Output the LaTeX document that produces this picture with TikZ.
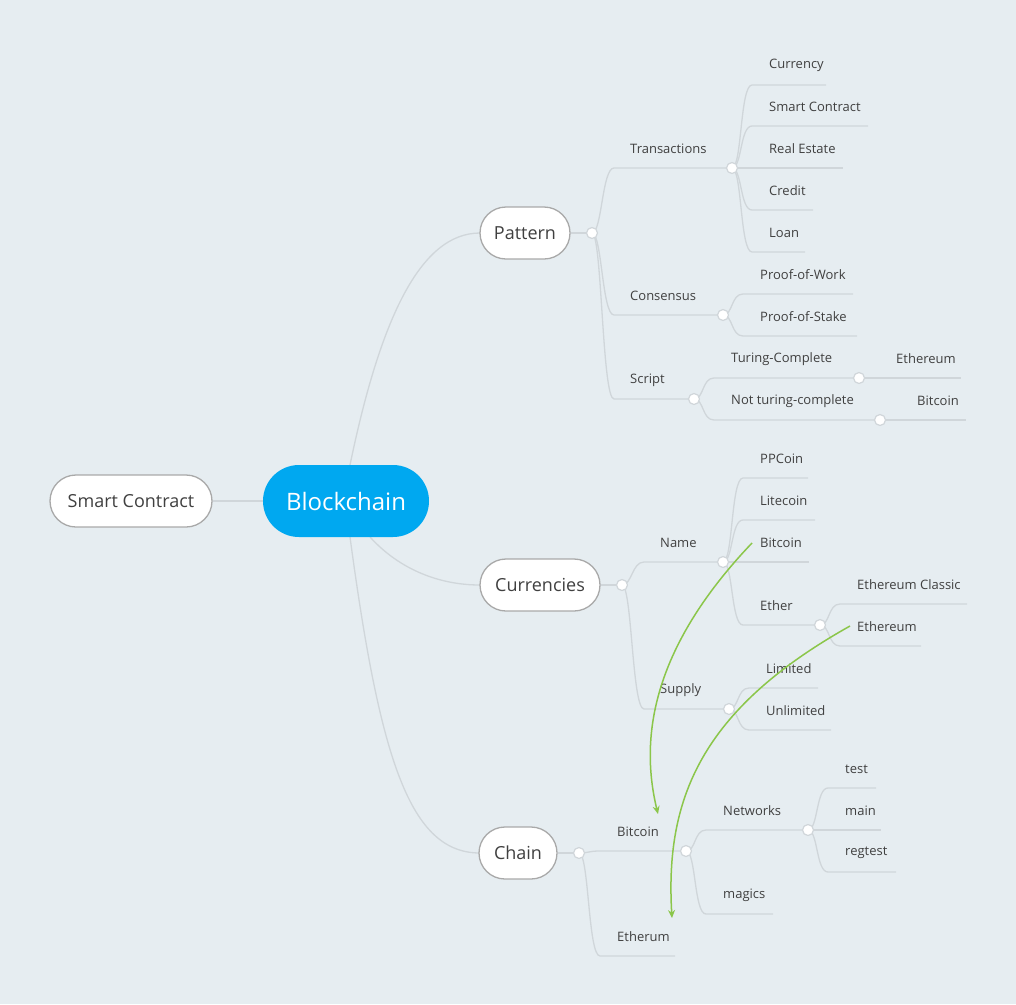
\documentclass[tikz,border=0pt]{standalone}
\usepackage{fontspec}
\setmainfont{Open Sans}
\begin{document}
\begin{tikzpicture}[x=1pt,y=-1pt,
  ln/.style={draw=black!17!blue!3!white!82!black, line width=1.3pt},
  jc/.style={circle,draw=black!17!white!85!black,fill=white,line width=1.2pt,inner sep=0pt,minimum size=11pt},
  lbl/.style={anchor=west,font=\fontsize{13}{15}\selectfont,text=black!75,inner sep=0pt},
  pill/.style={rounded corners=26pt,draw=black!17!white!80!black,line width=1.3pt,fill=white,font=\fontsize{18}{22}\selectfont,text=black!75},
  gr/.style={draw=green!50!lime!80!black!90,line width=1.5pt,-{Stealth[length=8pt,width=7pt]}}]
\usetikzlibrary{arrows.meta}
\useasboundingbox[fill={rgb,255:red,230;green,237;blue,241}] (0,0) rectangle (1016,1004);
\tikzset{ln/.style={draw={rgb,255:red,208;green,214;blue,218}, line width=1.3pt},
  jc/.style={circle,draw={rgb,255:red,208;green,214;blue,218},fill=white,line width=1.2pt,inner sep=0pt,minimum size=11pt},
  gr/.style={draw={rgb,255:red,139;green,198;blue,74},line width=1.5pt,-{Stealth[length=8pt,width=7pt]}}}
\newcommand\leaf[4]{\draw[ln] (#1) .. controls +(10,0) and +(-12,0) .. (#2,#3) -- (#4,#3);}
% root
\draw[ln] (213,501) -- (263,501);
\draw[ln] (350,465) .. controls (380,320) and (420,233) .. (480,233);
\draw[ln] (370,537) .. controls (400,570) and (440,585) .. (480,585);
\draw[ln] (350,537) .. controls (380,760) and (410,853) .. (480,853);
\node[pill,minimum width=162pt,minimum height=52pt] (sc) at (131,501) {Smart Contract};
\node[rounded corners=36pt,fill={rgb,255:red,0;green,168;blue,240},text=white,minimum width=166pt,minimum height=72pt,font=\fontsize{24}{28}\selectfont] (bc) at (346,501) {Blockchain};
\node[pill,minimum width=90pt,minimum height=52pt] (pat) at (525,233) {Pattern};
\node[pill,minimum width=120pt,minimum height=52pt] (cur) at (540,585) {Currencies};
\node[pill,minimum width=78pt,minimum height=52pt] (cha) at (518,853) {Chain};
\draw[ln] (pat.east) -- (592,233);
\draw[ln] (cur.east) -- (622,585);
\draw[ln] (cha.east) -- (579,853);
\coordinate (cp) at (592,233);
\coordinate (cc) at (622,585);
\coordinate (ch) at (579,853);
\coordinate (ctr) at (732,168);
\coordinate (ccs) at (723,315);
\coordinate (csc) at (694,399);
\coordinate (ctc) at (859,378);
\coordinate (cnt) at (880,420);
\coordinate (cnm) at (723,562);
\coordinate (cet) at (820,625);
\coordinate (csu) at (729,709);
\coordinate (cbt) at (686,851);
\coordinate (cnw) at (808,830);
% pattern
\leaf{cp}{614}{168}{732} \leaf{cp}{614}{315}{723} \leaf{cp}{614}{399}{694}
\node[lbl] (tra) at (630,149) {Transactions};
\node[lbl] (con) at (630,296) {Consensus};
\node[lbl] (scr) at (630,380) {Script};
\leaf{ctr}{752}{85}{826} \leaf{ctr}{752}{126}{868} \leaf{ctr}{752}{168}{843} \leaf{ctr}{752}{210}{813} \leaf{ctr}{752}{252}{805}
\node[lbl] (l1) at (769,65) {Currency};
\node[lbl] (l2) at (769,107) {Smart Contract};
\node[lbl] (l3) at (769,149) {Real Estate};
\node[lbl] (l4) at (769,191) {Credit};
\node[lbl] (l5) at (769,233) {Loan};
\leaf{ccs}{743}{294}{853} \leaf{ccs}{743}{336}{857}
\node[lbl] (pw) at (760,275) {Proof-of-Work};
\node[lbl] (ps) at (760,317) {Proof-of-Stake};
\leaf{csc}{714}{378}{859} \leaf{csc}{714}{420}{880}
\node[lbl] (tc) at (731,359) {Turing-Complete};
\node[lbl] (nt) at (731,401) {Not turing-complete};
\draw[ln] (ctc) -- (961,378); \draw[ln] (cnt) -- (966,420);
\node[lbl] (eth1) at (896,359) {Ethereum};
\node[lbl] (btc1) at (917,401) {Bitcoin};
% currencies
\leaf{cc}{644}{562}{723} \leaf{cc}{644}{709}{729}
\node[lbl] (nam) at (660,543) {Name};
\node[lbl] (sup) at (660,690) {Supply};
\leaf{cnm}{743}{478}{808} \leaf{cnm}{743}{520}{815} \leaf{cnm}{743}{562}{809} \leaf{cnm}{743}{625}{820}
\node[lbl] (ppc) at (760,459) {PPCoin};
\node[lbl] (ltc) at (760,501) {Litecoin};
\node[lbl] (btc2) at (760,543) {Bitcoin};
\node[lbl] (eth) at (760,606) {Ether};
\leaf{cet}{840}{604}{967} \leaf{cet}{840}{646}{921}
\node[lbl] (etc) at (857,585) {Ethereum Classic};
\node[lbl] (eth2) at (857,627) {Ethereum};
\leaf{csu}{749}{688}{818} \leaf{csu}{749}{730}{831}
\node[lbl] (lim) at (766,669) {Limited};
\node[lbl] (unl) at (766,711) {Unlimited};
% chain
\leaf{ch}{600}{851}{686} \leaf{ch}{600}{956}{675}
\node[lbl] (cbtc) at (617,832) {Bitcoin};
\node[lbl] (ceth) at (617,937) {Etherum};
\leaf{cbt}{706}{830}{808} \leaf{cbt}{706}{914}{773}
\node[lbl] (net) at (723,811) {Networks};
\node[lbl] (mag) at (723,895) {magics};
\leaf{cnw}{828}{788}{876} \leaf{cnw}{828}{830}{881} \leaf{cnw}{828}{872}{896}
\node[lbl] (tst) at (845,769) {test};
\node[lbl] (mai) at (845,811) {main};
\node[lbl] (reg) at (845,853) {regtest};
% junctions
\foreach \c in {cp,cc,ch,ctr,ccs,csc,ctc,cnt,cnm,cet,csu,cbt,cnw} \node[jc] at (\c) {};
% green arrows
\coordinate (g1) at (752,543); \coordinate (g1e) at (658,814);
\coordinate (g2) at (850,626); \coordinate (g2e) at (672,918);
\draw[gr] (g1) .. controls (650,650) and (640,740) .. (g1e);
\draw[gr] (g2) .. controls (700,710) and (665,800) .. (g2e);
\end{tikzpicture}
\end{document}
